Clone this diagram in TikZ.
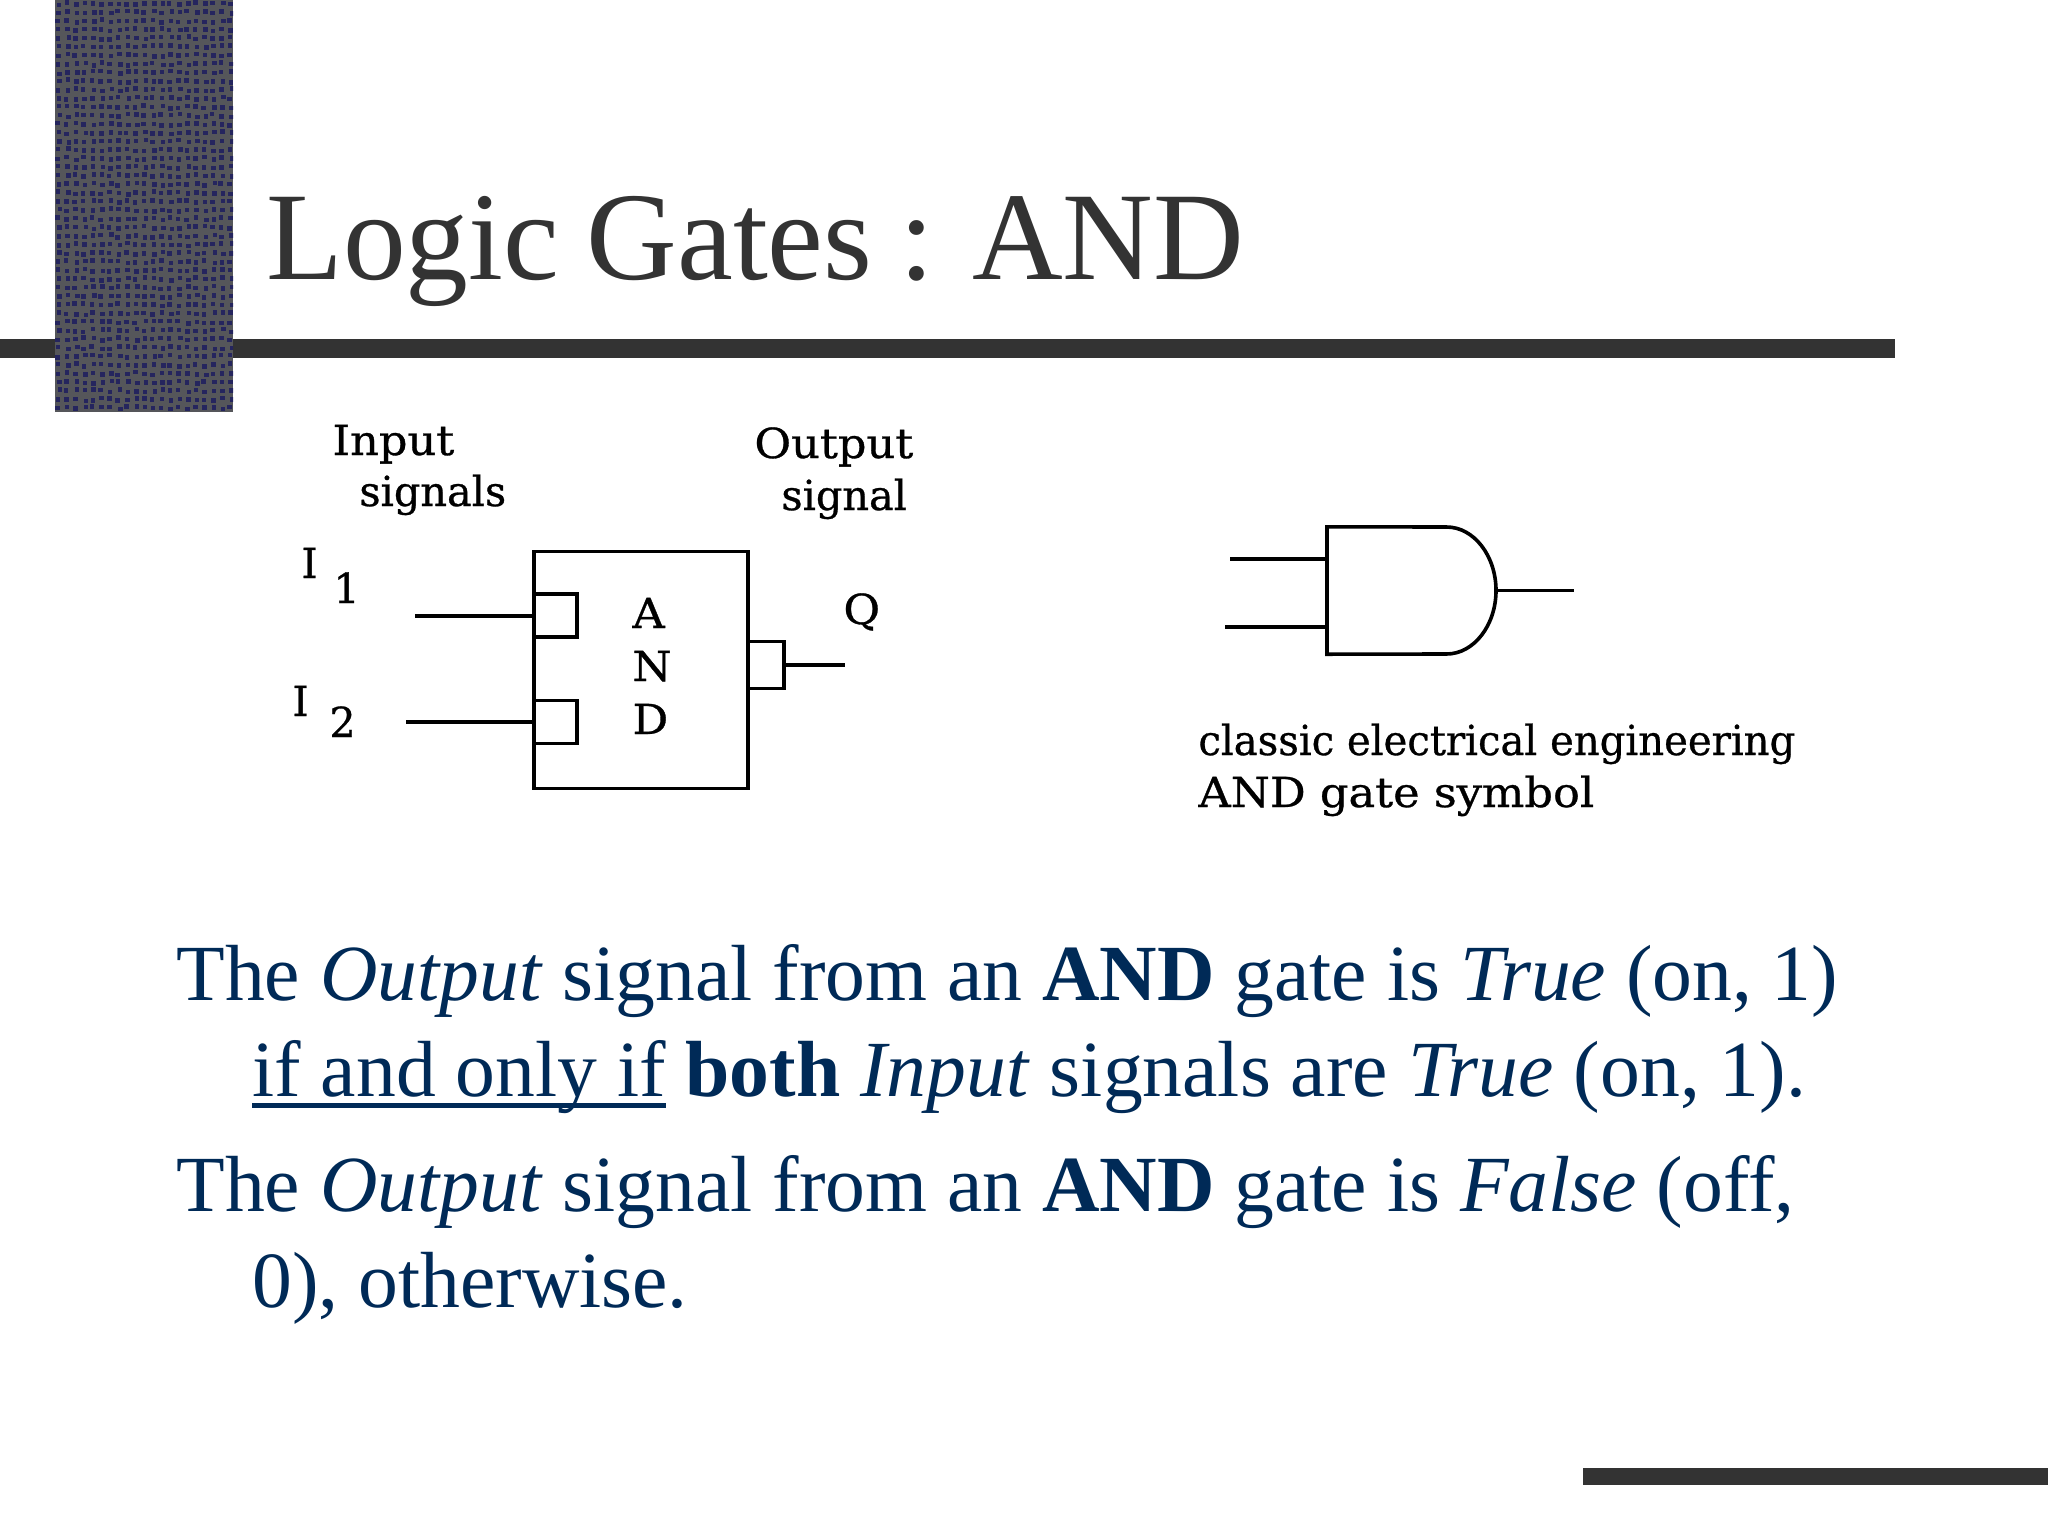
\documentclass[tikz,border=0pt]{standalone}
\usepackage{fontspec}
\setmainfont{Liberation Serif}
\newfontfamily\bitmapfont[FakeBold=0.7]{DejaVu Serif}
\definecolor{bardark}{HTML}{333333}
\definecolor{bodyblue}{HTML}{002A57}
\definecolor{pillargrey}{HTML}{55565A}
\definecolor{pillarblue}{HTML}{25255E}
\newcommand{\lineunder}[1]{\setbox0\hbox{#1}\rlap{\rule[-6pt]{\wd0}{2.5pt}}\box0\relax}

\begin{document}
\begin{tikzpicture}[x=.5pt,y=-.5pt]
			\tikzstyle{heading} = [anchor=base west, inner sep=0, text=bardark, font=\fontsize{62.8}{70}\selectfont]
			\tikzstyle{bodyline} = [anchor=base west, inner sep=0, text=bodyblue, font=\fontsize{39.8}{48}\selectfont]
			\tikzstyle{bitmap} = [anchor=base west, inner sep=0, text=black, font=\bitmapfont\fontsize{20.7}{26}\selectfont]
			\tikzstyle{wider} = [xscale=1.08, transform shape]
			\tikzstyle{narrower} = [xscale=.97, transform shape]
			\tikzstyle{rect} = [rectangle, draw=black, line width=1.8pt, outer sep=0, inner sep=0]
			\tikzstyle{wire} = [line width=1.8pt, black]

			\useasboundingbox (0,0) rectangle (2048,1536);

			%bars and pillar
			\fill [bardark] (0,339) rectangle (1895,358);
			\fill [bardark] (1583,1468) rectangle (2048,1485);
			\fill [pillargrey] (55,0) rectangle (233,412);
			\begin{scope}
				\clip (55,0) rectangle (233,412);
				\pgfmathsetseed{11}
				\foreach \col in {0,...,20} {
					\foreach \row in {0,...,48} {
						\pgfmathsetmacro{\dotx}{55+8.6*\col+3*rnd}
						\pgfmathsetmacro{\doty}{8.6*\row+3*rnd}
						\fill [pillarblue] (\dotx,\doty) rectangle ++(4.5,4.5);
					}
				}
			\end{scope}

			\node (title) at (266,279) [heading] {\spaceskip=.216em\relax Logic Gates : AND};

			%block with pins
			\node (block) at (641,670) [rect, minimum width=107pt, minimum height=118.5pt] {};
			\node (pinone) at (555.5,615.7) [rect, minimum width=21.5pt, minimum height=21.5pt] {};
			\node (pintwo) at (555.5,722) [rect, minimum width=21.5pt, minimum height=21.5pt] {};
			\node (pinout) at (766,665) [rect, minimum width=18pt, minimum height=23.5pt] {};
			\coordinate (inone) at (415,615.7);
			\coordinate (intwo) at (406,722);
			\coordinate (outq) at (845,665);

			\draw [wire] (inone) -- (pinone.west);
			\draw [wire] (intwo) -- (pintwo.west);
			\draw [wire] (pinout.east) -- (outq);

			\node (input) at (332,455) [bitmap, wider] {Input};
			\node (signals) at (359,506) [bitmap] {signals};
			\node (output) at (754,458) [bitmap, wider] {Output};
			\node (signal) at (781,510) [bitmap] {signal};
			\node (ione) at (301,578) [bitmap] {I};
			\node (subone) at (333,603) [bitmap] {1};
			\node (itwo) at (292,716) [bitmap] {I};
			\node (subtwo) at (329,737) [bitmap] {2};
			\node (q) at (843,624) [bitmap, wider] {Q};
			\node (a) at (632,628) [bitmap, wider] {A};
			\node (n) at (632,681) [bitmap, wider] {N};
			\node (d) at (632,734) [bitmap, wider] {D};

			%classic gate symbol
			\node (gate) at (1411.5,590.5) [minimum width=84.5pt, minimum height=63.7pt, outer sep=0, inner sep=0] {};
			\draw [wire] (1446.5,527) -- (gate.north west) -- (gate.south west) -- (1446.5,654)
				.. controls (1474,654) and (1496,625) .. (gate.east)
				.. controls (1496,556) and (1474,527) .. (1446.5,527) -- cycle;
			\coordinate (gateone) at (1230,559);
			\coordinate (gatetwo) at (1225,626.7);
			\coordinate (gateout) at (1574,590.5);

			\draw [wire] (gateone) -- (gate.west |- gateone);
			\draw [wire] (gatetwo) -- (gate.west |- gatetwo);
			\draw [wire] (gate.east) -- (gateout);

			\node (capone) at (1198,755) [bitmap, narrower] {classic electrical engineering};
			\node (captwo) at (1198,807) [bitmap, wider] {AND gate symbol};

			%body text
			\node (lineone) at (176,1000) [bodyline] {The \textit{Output} signal from an \textbf{AND} gate is \textit{True} (on, 1)};
			\node (linetwo) at (252,1096) [bodyline] {\lineunder{if and only if} \textbf{both} \textit{Input} signals are \textit{True} (on, 1).};
			\node (linethree) at (176,1211) [bodyline] {The \textit{Output} signal from an \textbf{AND} gate is \textit{False} (off,};
			\node (linefour) at (252,1307) [bodyline] {0), otherwise.};

		\end{tikzpicture}
\end{document}
